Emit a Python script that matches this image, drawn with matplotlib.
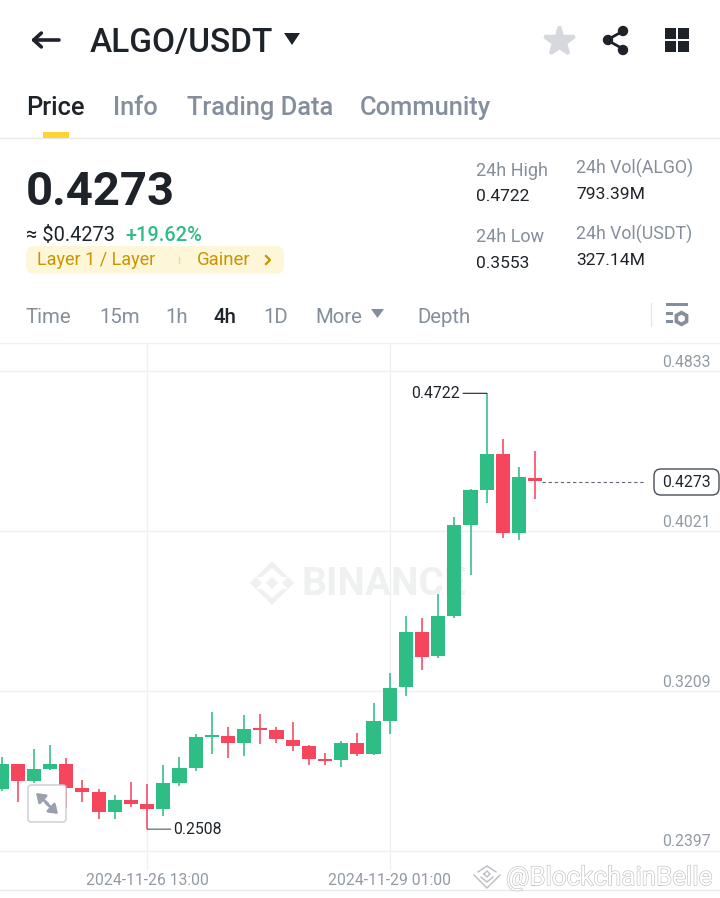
import matplotlib
matplotlib.use('Agg')
import matplotlib.pyplot as plt
import matplotlib.patheffects as pe
from matplotlib.patches import FancyBboxPatch, Polygon, Rectangle, Circle

plt.rcParams['font.family'] = ['Roboto', 'DejaVu Sans']

# candles, index 0 is 2024-11-26 13:00
candle_index = list(range(-9, 25))
opens = [.2714, .2840, .2753, .2816, .2838, .2718, .2696, .2596, .2655, .2638, .2608, .2743,
         .2821, .2977, .2979, .2945, .3021, .3013, .2963, .2928, .2865, .2857, .2945, .2891,
         .3058, .3228, .3512, .3387, .3593, .4054, .4233, .4416, .4010, .4293]
closes = [.2840, .2755, .2816, .2840, .2718, .2696, .2596, .2655, .2638, .2608, .2743, .2819,
          .2975, .2984, .2945, .3019, .3013, .2967, .2930, .2865, .2855, .2948, .2891, .3056,
          .3226, .3512, .3385, .3592, .4051, .4232, .4416, .4010, .4296, .4276]
highs = [.2875, .2840, .2916, .2933, .2867, .2757, .2714, .2679, .2748, .2736, .2836, .2875,
         .2989, .3101, .3026, .3087, .3092, .3029, .3053, .2935, .2897, .2958, .2994, .3151,
         .3299, .3593, .3581, .3705, .4096, .4238, .4722, .4491, .4350, .4430]
lows = [.2704, .2648, .2740, .2811, .2615, .2645, .2562, .2559, .2623, .2508, .2576, .2726,
        .2801, .2892, .2867, .2879, .2943, .2945, .2904, .2836, .2833, .2825, .2881, .2887,
        .2990, .3182, .3317, .3377, .3580, .3800, .4164, .3985, .3979, .4186]

price_ticks = [0.2397, 0.3209, 0.4021, 0.4833]
time_ticks = [0, 15]
time_labels = ['2024-11-26 13:00', '2024-11-29 01:00']
last_price = 0.4273

DARK = '#1E2329'
GREY = '#848E9C'
LIGHT = '#929AA5'
GREEN = '#2EBD85'
RED = '#F6465D'
LINE = '#EEF0F2'

fig = plt.figure(figsize=(7.2, 8.98), dpi=100, facecolor='white')


def px_axes(z):
    a = fig.add_axes([0, 0, 1, 1], zorder=z)
    a.set_xlim(0, 720)
    a.set_ylim(898, 0)
    a.axis('off')
    a.patch.set_alpha(0)
    return a


bg = px_axes(0)
ui = px_axes(2)

# watermark behind the candles
wm = '#EFF1F1'
for dx, dy in [(-16, 0), (16, 0), (0, 0)]:
    bg.add_patch(Polygon([(272 + dx - 6, 583 + dy), (272 + dx, 577 + dy), (272 + dx + 6, 583 + dy), (272 + dx, 589 + dy)], color=wm, lw=0))
bg.add_patch(Polygon([(272, 561), (288, 577), (282, 577), (272, 568), (262, 577), (256, 577)], color=wm, lw=0))
bg.add_patch(Polygon([(272, 605), (288, 589), (282, 589), (272, 598), (262, 589), (256, 589)], color=wm, lw=0))
bg.text(302, 595, 'BINANCE', fontsize=28, fontweight='bold', color=wm, va='baseline')

# chart
ax = fig.add_axes([0, (898 - 870) / 898, 1, (870 - 343) / 898], zorder=1)
ax.patch.set_alpha(0)
ax.set_xlim(-9.10, 35.43)
ax.set_ylim(0.23005, 0.49775)
for s in ax.spines.values():
    s.set_visible(False)
ax.set_xticks(time_ticks, time_labels, color=LIGHT, fontsize=11.3)
ax.set_yticks(price_ticks, [])
ax.tick_params(length=0, axis='both', pad=2)
ax.grid(True, color=LINE, lw=1)
ax.set_axisbelow(True)

colors = [GREEN if c >= o else RED for o, c in zip(opens, closes)]
bottoms = [min(o, c) for o, c in zip(opens, closes)]
heights = [max(abs(c - o), 0.0007) for o, c in zip(opens, closes)]
ax.vlines(candle_index, lows, highs, colors=colors, lw=1.15, zorder=3)
ax.bar(candle_index, heights, bottom=bottoms, width=0.87, color=colors, lw=0, zorder=4)

for p in price_ticks:
    ax.annotate(f'{p:.4f}', xy=(711 / 720, p), xycoords=('axes fraction', 'data'), xytext=(0, 3.3),
                textcoords='offset points', ha='right', va='baseline', color=LIGHT, fontsize=11.3)

# high and low markers
ax.annotate('0.4722', xy=(21, max(highs)), xytext=(-19, 0), textcoords='offset points', ha='right', va='center',
            fontsize=11.3, color=DARK, arrowprops=dict(arrowstyle='-', color=DARK, lw=0.8, shrinkA=0, shrinkB=0))
ax.annotate('0.2508', xy=(0, min(lows)), xytext=(19, 0), textcoords='offset points', ha='left', va='center',
            fontsize=11.3, color=DARK, arrowprops=dict(arrowstyle='-', color='#555B63', lw=0.8, shrinkA=0, shrinkB=0))

# last price line
ax.plot([24.4, 30.8], [last_price, last_price], color='#5E6673', lw=0.8, dashes=(3, 2.5), zorder=2)

# page furniture
bg.plot([0, 720], [138, 138], color='#E6E8EA', lw=1)
bg.plot([0, 720], [342.5, 342.5], color=LINE, lw=1)
bg.plot([0, 720], [889.5, 889.5], color='#E6E8EA', lw=1)


def label(x, y, s, size, color=DARK, weight='normal', ha='left', **kw):
    return ui.text(x, y, s, fontsize=size, color=color, fontweight=weight, ha=ha, va='baseline', **kw)


# top bar
ui.annotate('', xy=(31, 40), xytext=(59, 40), arrowprops=dict(arrowstyle='->,head_length=0.55,head_width=0.5', color=DARK, lw=2.6, shrinkA=0, shrinkB=0))
label(90, 52, 'ALGO/USDT', 24, weight='medium')
ui.add_patch(Polygon([(284, 33), (300, 33), (292, 45)], color=DARK, lw=0))
ui.plot([559], [41], marker='*', ms=22, color='#D5D9DE', mec='#D5D9DE', mew=2.5)
ui.plot([625, 607, 625], [30, 40, 50], color=DARK, lw=2)
for cx, cy in [(623, 31), (608, 40), (623, 50)]:
    ui.add_patch(Circle((cx, cy), 5.2, color=DARK, lw=0))
for cx, cy in [(665, 28), (678, 28), (665, 41), (678, 41)]:
    ui.add_patch(Rectangle((cx, cy), 11, 11, color=DARK, lw=0))

# tabs
label(26, 115, 'Price', 18.4, weight='medium')
label(113, 115, 'Info', 18.4, color=GREY, weight='medium')
label(187, 115, 'Trading Data', 18.4, color=GREY, weight='medium')
label(360, 115, 'Community', 18.4, color=GREY, weight='medium')
ui.add_patch(Rectangle((43, 132), 26, 6, color='#FCD535', lw=0))

# price block
label(26, 205, '0.4273', 34, weight='bold')
label(26, 241, '≈ $0.4273', 14.4)
label(125, 241, '+19.62%', 14.4, color=GREEN, weight='medium')
ui.add_patch(FancyBboxPatch((26, 246), 258, 28, boxstyle='round,pad=0,rounding_size=8', fc='#FEF6D8', ec='none', lw=0))
label(37, 265, 'Layer 1 / Layer', 13, color='#C99400')
label(197, 265, 'Gainer', 13.4, color='#C99400')
ui.plot([179, 179], [257, 263], color='#E8D9A0', lw=1)
ui.plot([266, 270, 266], [256, 260, 264], color='#C99400', lw=1.6)

# 24h stats
label(476, 176, '24h High', 13, color=GREY)
label(476, 201, '0.4722', 12.5)
label(476, 242, '24h Low', 13, color=GREY)
label(476, 268, '0.3553', 12.5)
label(576, 174, '24h Vol(ALGO)', 12.8, color=GREY)
label(576, 199, '793.39M', 12.6)
label(576, 240, '24h Vol(USDT)', 12.8, color=GREY)
label(576, 265, '327.14M', 12.6)

# interval row
for x, s in [(26, 'Time'), (99, '15m'), (165, '1h'), (263, '1D'), (315, 'More'), (417, 'Depth')]:
    label(x, 323, s, 14.7, color=GREY)
label(213, 323, '4h', 14.7, weight='medium')
ui.add_patch(Polygon([(371, 309), (384, 309), (377.5, 318)], color=GREY, lw=0))
ui.plot([651, 651], [303, 326], color='#E6E8EA', lw=1)
ui.add_patch(Rectangle((666, 303), 22, 3, color=GREY, lw=0))
ui.add_patch(Rectangle((666, 312), 7, 3, color=GREY, lw=0))
ui.add_patch(Rectangle((666, 320), 7, 3, color=GREY, lw=0))
ui.plot([681], [318], marker='h', ms=8.5, mfc='white', mec=GREY, mew=2.6)

# price box
ui.add_patch(FancyBboxPatch((654, 469), 65, 26, boxstyle='round,pad=0,rounding_size=7', fc='white', ec='#474D57', lw=1))
label(686.5, 487, '0.4273', 11.3, ha='center')

# expand button
ui.add_patch(FancyBboxPatch((28, 785), 38, 37, boxstyle='round,pad=0,rounding_size=3', fc='white', ec='#C9CDD2', lw=1))
ui.annotate('', xy=(36, 793), xytext=(48, 804), arrowprops=dict(arrowstyle='-|>,head_length=0.5,head_width=0.35', color='#9AA1AC', lw=2, shrinkA=0, shrinkB=0))
ui.annotate('', xy=(58, 814), xytext=(46, 803), arrowprops=dict(arrowstyle='-|>,head_length=0.5,head_width=0.35', color='#9AA1AC', lw=2, shrinkA=0, shrinkB=0))

# author watermark
stroke = [pe.withStroke(linewidth=0.9, foreground='#BDC0C4')]
label(506, 885, '@BlockchainBelle', 18.7, color='white', path_effects=stroke)
lg = '#B9BCC0'
ui.plot([474, 487, 500], [875, 888, 875], color=lg, lw=1)
ui.plot([481, 487, 493], [877, 882, 877], color=lg, lw=1)
ui.plot([478, 487, 496], [872, 866, 872], color=lg, lw=1)
ui.plot([484, 487, 490, 487, 484], [874, 871, 874, 877, 874], color=lg, lw=1)

fig.savefig('out.png', dpi=100)
